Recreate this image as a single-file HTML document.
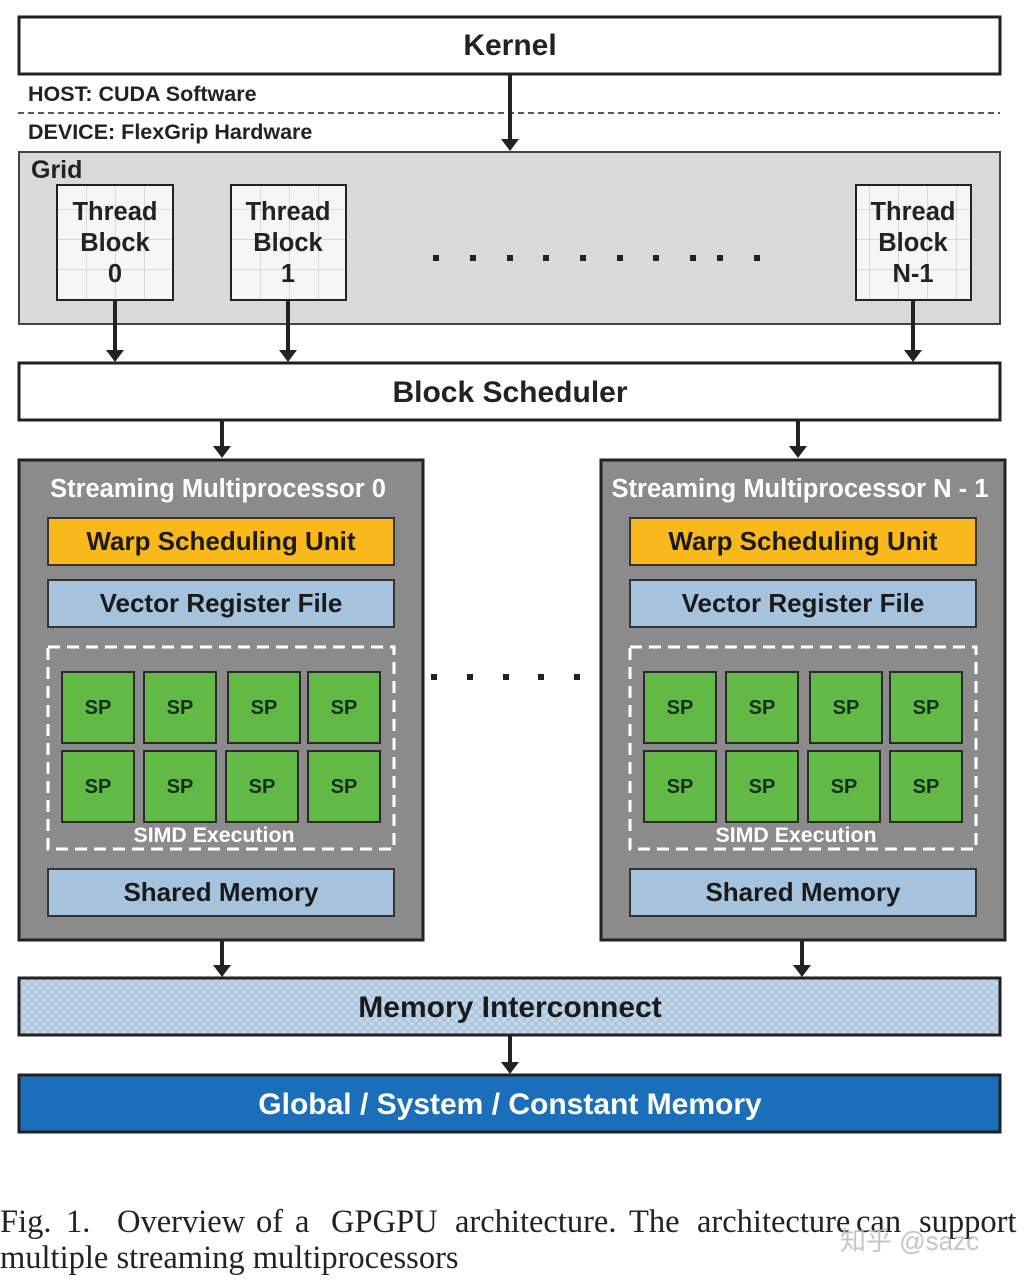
<!DOCTYPE html>
<html><head><meta charset="utf-8"><style>
html,body{margin:0;padding:0;background:#fff;width:1028px;height:1282px;overflow:hidden}
svg{display:block}
text{font-family:"Liberation Sans",sans-serif;font-weight:bold}
.cap{font-family:"Liberation Serif",serif;font-weight:normal;font-size:32.5px;fill:#222}
</style></head><body>
<svg width="1028" height="1282" viewBox="0 0 1028 1282" xmlns="http://www.w3.org/2000/svg">
<defs>
<pattern id="hatch" width="8" height="8" patternUnits="userSpaceOnUse">
<rect width="8" height="8" fill="#c5d8ea"/>
<path d="M0 0L8 8M8 0L0 8" stroke="#9fbcd8" stroke-width="1"/>
</pattern>
<pattern id="tgrid" width="29" height="30" patternUnits="userSpaceOnUse">
<rect width="29" height="30" fill="#f6f6f6"/>
<path d="M28.5 0V30M0 29.5H29" stroke="#d8d8d8" stroke-width="1"/>
</pattern>
</defs>

<!-- Kernel -->
<rect x="19" y="17" width="981" height="57" fill="#fff" stroke="#222" stroke-width="3"/>
<text x="510" y="55" font-size="30" text-anchor="middle" fill="#222">Kernel</text>
<text x="28" y="101" font-size="21.5" fill="#222">HOST: CUDA Software</text>
<line x1="18" y1="113" x2="1000" y2="113" stroke="#222" stroke-width="1.5" stroke-dasharray="6,4"/>
<text x="28" y="139" font-size="21.5" fill="#222">DEVICE: FlexGrip Hardware</text>
<line x1="510" y1="74" x2="510" y2="140" stroke="#222" stroke-width="4"/>
<polygon points="501,139 519,139 510,151" fill="#222"/>

<!-- Grid -->
<rect x="19" y="152" width="981" height="172" fill="#d9d9d9" stroke="#444" stroke-width="2"/>
<text x="31" y="178" font-size="25" fill="#222">Grid</text>
<g font-size="25.5" fill="#222" text-anchor="middle">
<rect x="57" y="185" width="116" height="115" fill="url(#tgrid)" stroke="#222" stroke-width="2"/>
<text x="115" y="220">Thread</text><text x="115" y="251">Block</text><text x="115" y="282">0</text>
<rect x="231" y="185" width="115" height="115" fill="url(#tgrid)" stroke="#222" stroke-width="2"/>
<text x="288" y="220">Thread</text><text x="288" y="251">Block</text><text x="288" y="282">1</text>
<rect x="856" y="185" width="115" height="115" fill="url(#tgrid)" stroke="#222" stroke-width="2"/>
<text x="913" y="220">Thread</text><text x="913" y="251">Block</text><text x="913" y="282">N-1</text>
</g>
<g fill="#222">
<rect x="433" y="255" width="6" height="6"/><rect x="470" y="255" width="6" height="6"/><rect x="507" y="255" width="6" height="6"/><rect x="543" y="255" width="6" height="6"/><rect x="580" y="255" width="6" height="6"/><rect x="617" y="255" width="6" height="6"/><rect x="653" y="255" width="6" height="6"/><rect x="690" y="255" width="6" height="6"/><rect x="717" y="255" width="6" height="6"/><rect x="754" y="255" width="6" height="6"/>
</g>
<g stroke="#222" stroke-width="4"><line x1="115" y1="300" x2="115" y2="352"/><line x1="288" y1="300" x2="288" y2="352"/><line x1="913" y1="300" x2="913" y2="352"/></g>
<g fill="#222"><polygon points="106,350 124,350 115,362"/><polygon points="279,350 297,350 288,362"/><polygon points="904,350 922,350 913,362"/></g>

<!-- Block Scheduler -->
<rect x="19" y="363" width="981" height="57" fill="#fff" stroke="#222" stroke-width="3"/>
<text x="510" y="402" font-size="30" text-anchor="middle" fill="#222">Block Scheduler</text>
<g stroke="#222" stroke-width="4"><line x1="222" y1="420" x2="222" y2="448"/><line x1="798" y1="420" x2="798" y2="448"/></g>
<g fill="#222"><polygon points="213,446 231,446 222,458"/><polygon points="789,446 807,446 798,458"/></g>

<!-- SM template -->
<g id="sm0">
<rect x="19" y="460" width="404" height="480" fill="#8b8b8b" stroke="#222" stroke-width="3"/>
<rect x="48" y="518" width="346" height="47" fill="#f9b81b" stroke="#333" stroke-width="2"/>
<text x="221" y="550" font-size="26" text-anchor="middle" fill="#1a1a1a">Warp Scheduling Unit</text>
<rect x="48" y="580" width="346" height="47" fill="#a6c3de" stroke="#333" stroke-width="2"/>
<text x="221" y="612" font-size="26" text-anchor="middle" fill="#1a1a1a">Vector Register File</text>
<rect x="48" y="647" width="346" height="202" fill="none" stroke="#fff" stroke-width="3" stroke-dasharray="12,7"/>
<g fill="#63b946" stroke="#2a2a2a" stroke-width="2">
<rect x="62" y="672" width="72" height="71"/><rect x="144" y="672" width="72" height="71"/><rect x="228" y="672" width="72" height="71"/><rect x="308" y="672" width="72" height="71"/>
<rect x="62" y="751" width="72" height="71"/><rect x="144" y="751" width="72" height="71"/><rect x="226" y="751" width="72" height="71"/><rect x="308" y="751" width="72" height="71"/>
</g>
<g font-size="20" text-anchor="middle" fill="#14301a">
<text x="98" y="714">SP</text><text x="180" y="714">SP</text><text x="264" y="714">SP</text><text x="344" y="714">SP</text>
<text x="98" y="793">SP</text><text x="180" y="793">SP</text><text x="262" y="793">SP</text><text x="344" y="793">SP</text>
</g>
<text x="214" y="842" font-size="21.3" text-anchor="middle" fill="#fff">SIMD Execution</text>
<rect x="48" y="869" width="346" height="47" fill="#a6c3de" stroke="#333" stroke-width="2"/>
<text x="221" y="901" font-size="26" text-anchor="middle" fill="#1a1a1a">Shared Memory</text>
</g>
<text x="218" y="497" font-size="25.5" text-anchor="middle" fill="#fff">Streaming Multiprocessor 0</text>
<use href="#sm0" x="582"/>
<text x="800" y="497" font-size="25.5" text-anchor="middle" fill="#fff">Streaming Multiprocessor N - 1</text>

<g fill="#222">
<rect x="431" y="674" width="6" height="6"/><rect x="467" y="674" width="6" height="6"/><rect x="503" y="674" width="6" height="6"/><rect x="538" y="674" width="6" height="6"/><rect x="574" y="674" width="6" height="6"/>
</g>

<g stroke="#222" stroke-width="4"><line x1="222" y1="940" x2="222" y2="967"/><line x1="802" y1="940" x2="802" y2="967"/><line x1="510" y1="1035" x2="510" y2="1064"/></g>
<g fill="#222"><polygon points="213,965 231,965 222,977"/><polygon points="793,965 811,965 802,977"/><polygon points="501,1062 519,1062 510,1074"/></g>

<!-- Memory Interconnect -->
<rect x="19" y="978" width="981" height="57" fill="url(#hatch)" stroke="#222" stroke-width="3"/>
<text x="510" y="1017" font-size="30" text-anchor="middle" fill="#1a1a1a">Memory Interconnect</text>

<!-- Global -->
<rect x="19" y="1075" width="981" height="57" fill="#1b6fba" stroke="#222" stroke-width="3"/>
<text x="510" y="1114" font-size="30" text-anchor="middle" fill="#fff">Global / System / Constant Memory</text>

<!-- caption -->
<g class="cap">
<text class="cap" x="0" y="1232">Fig.</text>
<text class="cap" x="66" y="1232">1.</text>
<text class="cap" x="117" y="1232">Overview</text>
<text class="cap" x="256" y="1232">of</text>
<text class="cap" x="295" y="1232">a</text>
<text class="cap" x="331" y="1232">GPGPU</text>
<text class="cap" x="455" y="1232">architecture.</text>
<text class="cap" x="629" y="1232">The</text>
<text class="cap" x="697" y="1232">architecture</text>
<text class="cap" x="856" y="1232">can</text>
<text class="cap" x="919" y="1232">support</text>
</g>
<text class="cap" x="0" y="1268">multiple streaming multiprocessors</text>
<text x="840" y="1250" font-size="26" fill="#bbb" opacity="0.85" style="font-family:'Liberation Sans','Noto Sans CJK SC',sans-serif;font-weight:normal">知乎 @sazc</text>
</svg>
</body></html>
